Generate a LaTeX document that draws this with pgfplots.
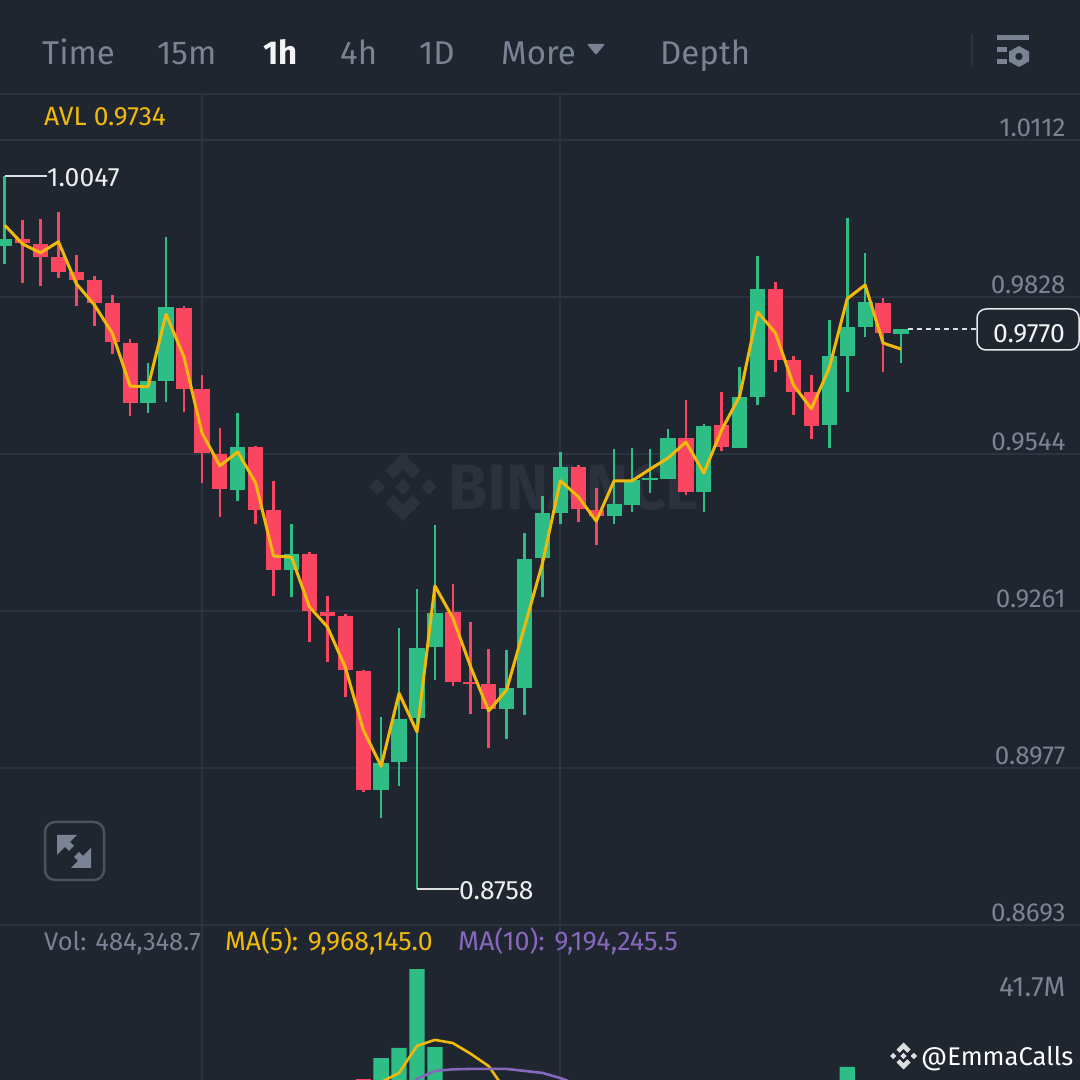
\documentclass[border=0pt]{standalone}
\usepackage{fontspec}
\usepackage{pgfplots}
\usepackage{pgfplotstable}
\pgfplotsset{compat=1.18}
\setmainfont{Fira Sans}
\definecolor{bg}{HTML}{1F2630}
\definecolor{gridc}{HTML}{2C3340}
\definecolor{upc}{HTML}{2EBD85}
\definecolor{downc}{HTML}{FB4661}
\definecolor{avl}{HTML}{F0B90B}
\definecolor{ma10}{HTML}{8767BE}
\definecolor{tickc}{HTML}{7A8394}
\definecolor{wm}{HTML}{2C323D}
\newcommand{\fs}[1]{\fontsize{#1}{#1}\selectfont}
\newcommand{\binlogo}[4]{%
  \begin{scope}[shift={(#1,#2)},x=#3pt,y=#3pt]
    \fill[#4] (0,0.24)--(0.24,0)--(0,-0.24)--(-0.24,0)--cycle;
    \fill[#4] (-0.76,0.24)--(-0.52,0)--(-0.76,-0.24)--(-1,0)--cycle;
    \fill[#4] (0.76,0.24)--(1,0)--(0.76,-0.24)--(0.52,0)--cycle;
    \fill[#4] (0,1)--(0.52,0.48)--(0.28,0.24)--(0,0.52)--(-0.28,0.24)--(-0.52,0.48)--cycle;
    \fill[#4] (0,-1)--(0.52,-0.48)--(0.28,-0.24)--(0,-0.52)--(-0.28,-0.24)--(-0.52,-0.48)--cycle;
  \end{scope}}
% i open high low close
\pgfplotstableread{
i open high low close
0 0.9921 1.0047 0.9888 0.9933
8 0.9637 0.9709 0.9619 0.9676
9 0.9676 0.9937 0.9639 0.9810
13 0.9479 0.9619 0.9459 0.9557
16 0.9335 0.9418 0.9286 0.9364
21 0.8937 0.9069 0.8887 0.8986
22 0.8988 0.9230 0.8944 0.9066
23 0.9067 0.9300 0.8758 0.9194
24 0.9196 0.9416 0.9136 0.9257
28 0.9084 0.9190 0.9029 0.9122
29 0.9122 0.9402 0.9073 0.9355
30 0.9356 0.9469 0.9286 0.9438
31 0.9438 0.9548 0.9418 0.9521
34 0.9432 0.9554 0.9418 0.9454
35 0.9452 0.9555 0.9440 0.9497
36 0.9497 0.9554 0.9474 0.9501
37 0.9499 0.9590 0.9499 0.9573
39 0.9476 0.9599 0.9440 0.9595
41 0.9555 0.9702 0.9555 0.9648
42 0.9648 0.9902 0.9633 0.9843
46 0.9597 0.9787 0.9555 0.9722
47 0.9722 0.9971 0.9657 0.9774
48 0.9774 0.9908 0.9756 0.9819
50 0.9761 0.9770 0.9709 0.9770
}\upcandles
\pgfplotstableread{
i open high low close
1 0.9933 0.9967 0.9854 0.9926
2 0.9924 0.9969 0.9848 0.9901
3 0.9901 0.9982 0.9863 0.9873
4 0.9873 0.9904 0.9812 0.9859
5 0.9859 0.9866 0.9776 0.9817
6 0.9817 0.9832 0.9725 0.9747
7 0.9745 0.9752 0.9613 0.9637
10 0.9808 0.9812 0.9620 0.9662
11 0.9662 0.9687 0.9492 0.9546
12 0.9544 0.9592 0.9431 0.9481
14 0.9557 0.9559 0.9418 0.9443
15 0.9443 0.9496 0.9288 0.9335
17 0.9364 0.9367 0.9205 0.9261
18 0.9259 0.9288 0.9169 0.9252
19 0.9252 0.9255 0.9105 0.9154
20 0.9152 0.9154 0.8933 0.8937
25 0.9259 0.9309 0.9125 0.9132
26 0.9132 0.9241 0.9075 0.9129
27 0.9129 0.9192 0.9013 0.9084
32 0.9521 0.9525 0.9421 0.9445
33 0.9443 0.9483 0.9380 0.9432
38 0.9573 0.9642 0.9470 0.9476
40 0.9597 0.9657 0.9550 0.9557
43 0.9843 0.9855 0.9693 0.9714
44 0.9714 0.9722 0.9615 0.9657
45 0.9657 0.9687 0.9572 0.9595
49 0.9817 0.9826 0.9693 0.9763
}\downcandles
\pgfplotstableread{
i avl
0 0.9958
1 0.9924
2 0.9908
3 0.9928
4 0.9852
5 0.9814
6 0.9763
7 0.9667
8 0.9666
9 0.9797
10 0.9720
11 0.9583
12 0.9523
13 0.9548
14 0.9492
15 0.9360
16 0.9358
17 0.9268
18 0.9232
19 0.9159
20 0.9046
21 0.8980
22 0.9112
23 0.9042
24 0.9306
25 0.9248
26 0.9159
27 0.9080
28 0.9118
29 0.9232
30 0.9347
31 0.9496
32 0.9467
33 0.9423
34 0.9496
35 0.9496
36 0.9517
37 0.9537
38 0.9566
39 0.9510
40 0.9588
41 0.9649
42 0.9801
43 0.9763
44 0.9669
45 0.9626
46 0.9700
47 0.9825
48 0.9850
49 0.9745
50 0.9734
}\avlline
\pgfplotstableread{
i vol
21 19.3
22 21.9
23 41.7
24 22.1
47 17.1
}\upvol
\pgfplotstableread{
i vol
20 14.1
}\downvol
\pgfplotstableread{
i v
21 13.3
22 15.6
23 22.4
24 23.9
25 23.1
26 20.4
27 17.3
28 10.8
}\mafive
\pgfplotstableread{
i v
22 8.8
23 14.1
24 16.1
25 16.5
26 16.6
27 16.6
28 16.6
29 16.1
30 15.6
31 14.3
32 12.6
}\maten
\pgfplotsset{
  chartbase/.style={
    scale only axis, width=1080pt,
    xmin=-0.262, xmax=59.986,
    axis line style={draw=none},
    xtick={11,31}, xticklabels={},
    major tick length=0pt,
    xmajorgrids, ymajorgrids,
    grid style={draw=gridc, line width=2pt},
    yticklabel pos=right,
    yticklabel style={font=\fs{26}, text=tickc, anchor=east, xshift=-11pt, yshift=12pt},
  },
  wick/.style={draw=none, mark=none, forget plot,
    error bars/y dir=both, error bars/y explicit, error bars/error mark=none,
    error bars/error bar style={draw=#1, line width=2.6pt, solid}},
  body/.style={draw=none, mark=none, forget plot,
    error bars/y dir=both, error bars/y explicit, error bars/error mark=none,
    error bars/error bar style={draw=#1, line width=15.3pt, solid}},
}
\begin{document}
\begin{tikzpicture}
\useasboundingbox (0,0) rectangle (1080pt,1080pt);
\fill[bg] (0,0) rectangle (1080pt,1080pt);
\begin{scope}[x=1pt,y=-1pt,shift={(0pt,1080pt)}]
  \binlogo{403}{487}{34}{wm}
  \node[anchor=west, inner sep=0pt, text=wm, font=\fs{64}\bfseries] at (448,487) {BINANCE};
\end{scope}
% price pane
\begin{axis}[chartbase, at={(0pt,155pt)}, anchor=south west, height=830pt,
  ymin=0.8693, ymax=1.01933,
  ytick={0.8693,0.8977,0.9261,0.9544,0.9828,1.0112},
  yticklabel={\pgfmathprintnumber[fixed,fixed zerofill,precision=4,assume math mode=true]{\tick}},
]
\addplot[wick=upc] table[x=i,y=open,y error plus expr=\thisrow{high}-\thisrow{open},y error minus expr=\thisrow{open}-\thisrow{low}] {\upcandles};
\addplot[wick=downc] table[x=i,y=open,y error plus expr=\thisrow{high}-\thisrow{open},y error minus expr=\thisrow{open}-\thisrow{low}] {\downcandles};
\addplot[body=upc] table[x=i,y=open,y error plus expr=\thisrow{close}-\thisrow{open},y error minus expr=0] {\upcandles};
\addplot[body=downc] table[x=i,y=close,y error plus expr=\thisrow{open}-\thisrow{close},y error minus expr=0] {\downcandles};
\addplot[avl, line width=3pt, line join=round, mark=none] table[x=i,y=avl] {\avlline};
\addplot[white!85!bg, line width=1.6pt, mark=none] coordinates {(0,1.0047) (2.36,1.0047)};
\addplot[white!85!bg, line width=1.6pt, mark=none] coordinates {(23,0.8758) (25.34,0.8758)};
\addplot[white!85!bg, line width=1.4pt, dashed, dash pattern=on 5pt off 4pt, mark=none] coordinates {(50.39,0.9770) (54.24,0.9770)};
\node[anchor=west, inner sep=0pt, yshift=-2pt, text=white!92!bg, font=\fs{26.5}] at (axis cs:2.36,1.0047) {1.0047};
\node[anchor=west, inner sep=0pt, yshift=-2pt, text=white!92!bg, font=\fs{26.5}] at (axis cs:25.34,0.8758) {0.8758};
\end{axis}
% volume pane
\begin{axis}[chartbase, at={(0pt,0pt)}, anchor=south west, height=155pt,
  ymin=13.82, ymax=52.76,
  ytick={41.7}, yticklabels={41.7M}, ymajorgrids=false,
  yticklabel style={yshift=-30pt, font=\fs{28}},
]
\addplot[ybar, bar width=15.3pt, bar shift=0pt, fill=upc, draw=none, forget plot] table[x=i,y=vol] {\upvol};
\addplot[ybar, bar width=15.3pt, bar shift=0pt, fill=downc, draw=none, forget plot] table[x=i,y=vol] {\downvol};
\addplot[avl, line width=2.6pt, mark=none] table[x=i,y=v] {\mafive};
\addplot[ma10, line width=2.6pt, mark=none] table[x=i,y=v] {\maten};
\end{axis}
\begin{scope}[x=1pt,y=-1pt,shift={(0pt,1080pt)}]
  % header
  \draw[gridc, line width=2.5pt] (0,94)--(1080,94);
  \tikzset{h/.style={anchor=base west, inner sep=0pt, text=tickc, font=\fs{33}}}
  \node[h] at (42,65) {Time};
  \node[h] at (157,65) {15m};
  \node[h, text=white!95!bg, font=\fs{33}\bfseries] at (263,65) {1h};
  \node[h] at (340,65) {4h};
  \node[h] at (419,65) {1D};
  \node[h] at (501,65) {More};
  \fill[tickc, rounded corners=1pt] (587,44)--(605,44)--(596,55)--cycle;
  \node[h] at (660,65) {Depth};
  \draw[gridc, line width=2.5pt] (972,34)--(972,67);
  % settings icon
  \fill[tickc] (997,35) rectangle (1029,40);
  \fill[tickc] (997,47) rectangle (1007,52);
  \fill[tickc] (997,59) rectangle (1007,64);
  \fill[tickc,even odd rule] (1019,46)--(1029,51.5)--(1029,61.5)--(1019,67)--(1009,61.5)--(1009,51.5)--cycle
     (1019,56.5) circle (3.8);
  % legends
  \node[anchor=base west, inner sep=0pt, text=avl, font=\fs{26.4}] at (44,126) {AVL 0.9734};
  \node[anchor=base west, inner sep=0pt, text=tickc, font=\fs{25.5}] at (44,951) {Vol: 484,348.7};
  \node[anchor=base west, inner sep=0pt, text=avl, font=\fs{26.7}] at (225,951) {MA(5): 9,968,145.0};
  \node[anchor=base west, inner sep=0pt, text=ma10, font=\fs{27}] at (458,951) {MA(10): 9,194,245.5};
  % price tag
  \draw[white!90!bg, line width=1.5pt, fill=bg, rounded corners=9pt] (977,309) rectangle (1079,350);
  \node[anchor=base east, inner sep=0pt, text=white!95!bg, font=\fs{26.5}] at (1065,343) {0.9770};
  % expand button
  \draw[gridc!85!white, line width=2.5pt, rounded corners=10pt] (45,822) rectangle (104,880);
  \fill[tickc] (57,835)--(77,835)--(70,842)--(74,846)--(69,851)--(65,847)--(57,855)--cycle;
  \fill[tickc] (91,868)--(71,868)--(78,861)--(74,857)--(79,852)--(83,856)--(91,848)--cycle;
  % signature
  \binlogo{903.5}{1056}{13.5}{white!85!bg}
  \node[anchor=base west, inner sep=0pt, text=white, font=\fs{25.6}] at (921,1065) {@EmmaCalls};
\end{scope}
\end{tikzpicture}
\end{document}
